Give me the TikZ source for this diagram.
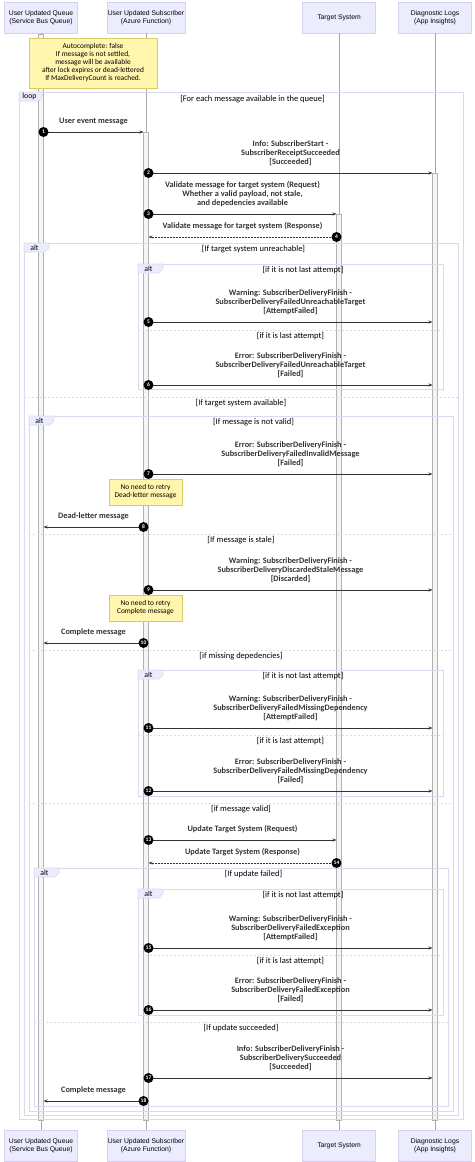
\documentclass[tikz,border=0pt]{standalone}
\usepackage{fontspec}
\setmainfont{Carlito}
\newfontfamily\actorfont{Liberation Sans}
\usetikzlibrary{arrows.meta}
\definecolor{actorfill}{HTML}{ECECFF}
\definecolor{actorline}{HTML}{D8D0F2}
\definecolor{framecol}{HTML}{DADAEE}
\definecolor{notefill}{HTML}{FFF5AD}
\definecolor{noteline}{HTML}{D9CC66}
\definecolor{msgcol}{HTML}{333333}

\begin{document}
\begin{tikzpicture}[x=1pt, y=-1pt,
    actor/.style={rectangle, draw=actorline, fill=actorfill, minimum width=73pt, minimum height=31pt,
        align=center, inner sep=1pt, font=\actorfont\fontsize{6.8}{8}\selectfont},
    lifeline/.style={draw=gray!70, line width=0.5pt},
    actbar/.style={draw=gray!60, fill=gray!8, line width=0.5pt},
    note/.style={rectangle, draw=noteline, fill=notefill, align=center, inner sep=1pt,
        font=\fontsize{7.4}{8}\selectfont},
    frame/.style={draw=framecol, line width=0.6pt},
    sep/.style={draw=framecol, line width=0.6pt, dash pattern=on 2pt off 2pt},
    tabbox/.style={draw=framecol, fill=actorfill, line width=0.6pt},
    tab/.style={inner sep=0pt, font=\fontsize{7.8}{8}\selectfont},
    cond/.style={inner sep=0pt, font=\fontsize{8.5}{9}\selectfont},
    lbl/.style={inner sep=0pt, align=center, text=msgcol, font=\bfseries\fontsize{8.3}{9}\selectfont},
    msg/.style={draw=msgcol, line width=0.7pt, -{Stealth[length=4pt,width=3pt]}},
    reply/.style={msg, dash pattern=on 1.5pt off 1.5pt},
    num/.style={circle, fill=black, text=white, inner sep=0pt, minimum size=10pt,
        font=\bfseries\fontsize{5.5}{5.5}\selectfont}]
\useasboundingbox (0,0) rectangle (474,1162);

\foreach \i/\x/\name in {1/41/{User Updated Queue\\(Service Bus Queue)},
        2/146/{User Updated Subscriber\\(Azure Function)}, 3/339/{Target System},
        4/435/{Diagnostic Logs\\(App Insights)}} {
    \node[actor] (T\i) at (\x,17.5) {\name};
    \node[actor] (B\i) at (\x,1145.5) {\name};
    \draw[lifeline] (T\i) -- (B\i);
}
\foreach \x/\ya in {41/34, 146/132, 339/214, 435/173}
    \draw[actbar] (\x-2.5,\ya) rectangle (\x+2.5,1120);

\draw[frame] (19,92) rectangle (463,1119);
\draw[tabbox] (19,92) -- ++(23,0) -- ++(0,5) -- ++(-4,4) -- ++(-19,0) -- cycle;
\node[tab] at (29.5,96.5) {loop};
\node[cond] at (252.5,99) {[For each message available in the queue]};
\foreach \xa/\ya/\xb/\yb/\cond in {24/243/458/1115/{[If target system unreachable]},
        138/264/443/389/{[if it is not last attempt]}, 29/416/453/1111/{[If message is not valid]},
        138/670/443/796/{[if it is not last attempt]}, 34/868/448/1106/{[If update failed]},
        138/889/443/1015/{[if it is not last attempt]}} {
    \draw[frame] (\xa,\ya) rectangle (\xb,\yb);
    \draw[tabbox] (\xa,\ya) -- ++(25,0) -- ++(0,5) -- ++(-4,4) -- ++(-21,0) -- cycle;
    \node[tab] at (\xa+10.5,\ya+4.5) {alt};
    \node[cond] at ({(\xa+25+\xb)/2},\ya+6) {\cond};
}
\foreach \xa/\xb/\y/\cond in {24/458/397/{[If target system available]}, 138/443/330/{[if it is last attempt]},
        29/453/534/{[If message is stale]}, 29/453/650/{[if missing depedencies]},
        138/443/735/{[if it is last attempt]}, 29/453/803/{[if message valid]},
        138/443/955/{[if it is last attempt]}, 34/448/1022/{[If update succeeded]}} {
    \draw[sep] (\xa,\y) -- (\xb,\y);
    \node[cond] at ({(\xa+\xb)/2},\y+6) {\cond};
}

\node[note, minimum width=128pt, minimum height=50pt] (autonote) at (93,63)
    {Autocomplete: false\\If message is not settled,\\message will be available\\after lock expires or dead-lettered\\If MaxDeliveryCount is reached.};
\node[note, minimum width=73pt, minimum height=26pt] (deadnote) at (145.5,492) {No need to retry\\Dead-letter message};
\node[note, minimum width=73pt, minimum height=26pt] (stalenote) at (145.5,608) {No need to retry\\Complete message};

\foreach \n/\y/\xa/\xb/\kind/\txt in {
        1/132/43.5/143.5/msg/{User event message},
        2/173/148.5/432.5/msg/{Info: SubscriberStart -\\SubscriberReceiptSucceeded\\{[}Succeeded{]}},
        3/214/148.5/336.5/msg/{Validate message for target system (Request)\\Whether a valid payload, not stale,\\and depedencies available},
        4/237/336.5/148.5/reply/{Validate message for target system (Response)},
        5/322/148.5/432.5/msg/{Warning: SubscriberDeliveryFinish -\\SubscriberDeliveryFailedUnreachableTarget\\{[}AttemptFailed{]}},
        6/385/148.5/432.5/msg/{Error: SubscriberDeliveryFinish -\\SubscriberDeliveryFailedUnreachableTarget\\{[}Failed{]}},
        7/474/148.5/432.5/msg/{Error: SubscriberDeliveryFinish -\\SubscriberDeliveryFailedInvalidMessage\\{[}Failed{]}},
        8/527/143.5/43.5/msg/{Dead-letter message},
        9/590/148.5/432.5/msg/{Warning: SubscriberDeliveryFinish -\\SubscriberDeliveryDiscardedStaleMessage\\{[}Discarded{]}},
        10/643/143.5/43.5/msg/{Complete message},
        11/728/148.5/432.5/msg/{Warning: SubscriberDeliveryFinish -\\SubscriberDeliveryFailedMissingDependency\\{[}AttemptFailed{]}},
        12/791/148.5/432.5/msg/{Error: SubscriberDeliveryFinish -\\SubscriberDeliveryFailedMissingDependency\\{[}Failed{]}},
        13/840/148.5/336.5/msg/{Update Target System (Request)},
        14/863/336.5/148.5/reply/{Update Target System (Response)},
        15/948/148.5/432.5/msg/{Warning: SubscriberDeliveryFinish -\\SubscriberDeliveryFailedException\\{[}AttemptFailed{]}},
        16/1010/148.5/432.5/msg/{Error: SubscriberDeliveryFinish -\\SubscriberDeliveryFailedException\\{[}Failed{]}},
        17/1078/148.5/432.5/msg/{Info: SubscriberDeliveryFinish -\\SubscriberDeliverySucceeded\\{[}Succeeded{]}},
        18/1101/143.5/43.5/msg/{Complete message}} {
    \coordinate (s\n) at (\xa,\y);
    \coordinate (e\n) at (\xb,\y);
    \draw[\kind] (s\n) -- (e\n) node[midway, above=7pt, lbl] {\txt};
    \node[num] (n\n) at (s\n) {\n};
}
\end{tikzpicture}
\end{document}
